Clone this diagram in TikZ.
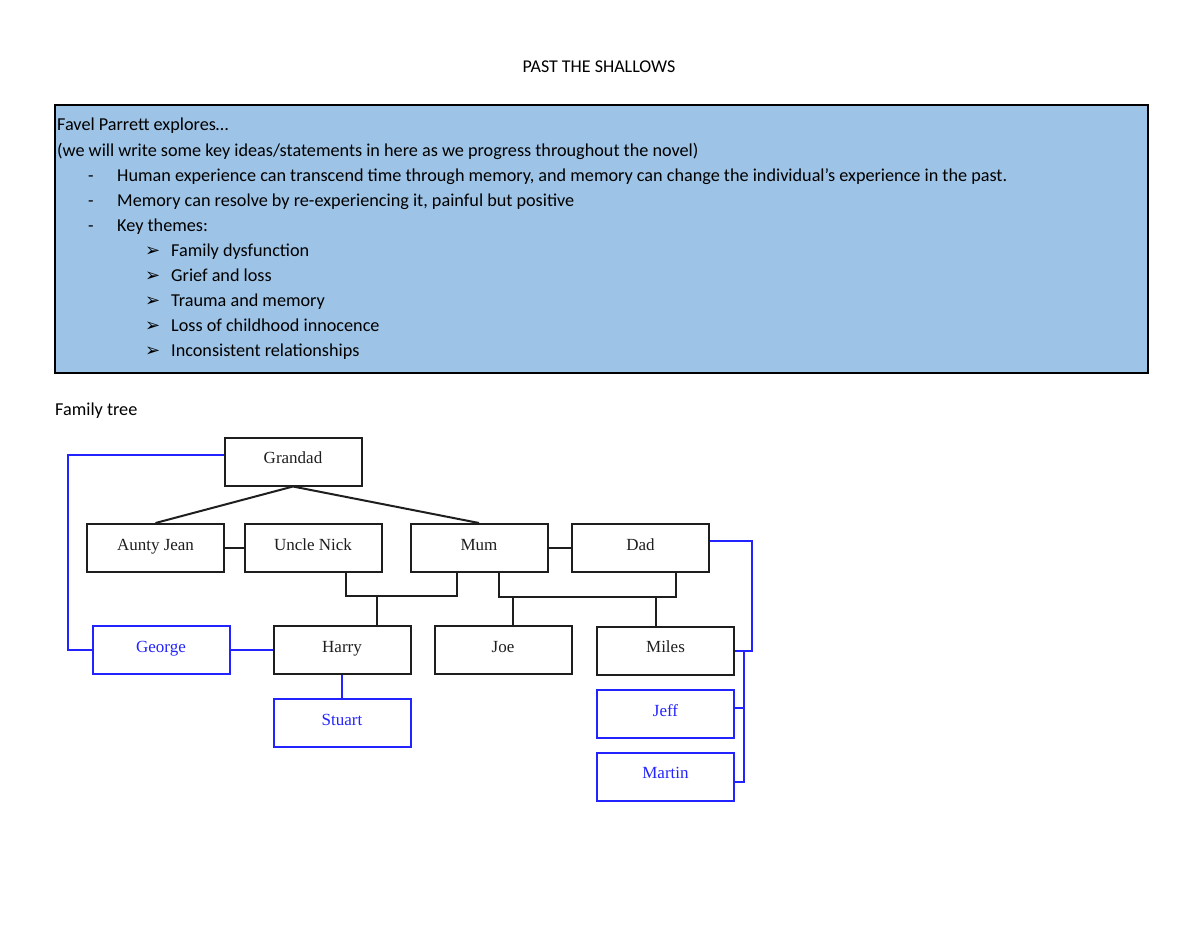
\documentclass[tikz,border=0pt]{standalone}
\usepackage{fontspec}
\setmainfont{Carlito}
\newfontfamily\treefont{Liberation Serif}
\newfontfamily\symfont{DejaVu Sans}
\definecolor{boxblue}{RGB}{157,195,230}
\definecolor{tblue}{RGB}{35,35,255}
\definecolor{kline}{RGB}{30,30,30}
\begin{document}
\begin{tikzpicture}[x=1pt,y=-1pt,
  person/.style={draw=kline, line width=2, minimum width=137, minimum height=48, inner sep=0,
    text height=12, text depth=8,
    font=\treefont\fontsize{17}{20}\selectfont, text=kline},
  bperson/.style={person, draw=tblue, text=tblue},
  bl/.style={draw=tblue, line width=2},
  kl/.style={draw=kline, line width=2},
  txt/.style={anchor=base west, inner sep=0, font=\fontsize{18.2}{21}\selectfont},
  dashmark/.style={anchor=base, inner sep=0, font=\fontsize{18}{21}\selectfont},
  arrowmark/.style={anchor=base west, inner sep=0, font=\symfont\fontsize{18}{20}\selectfont}]
\useasboundingbox (0,0) rectangle (1200,927);

\node[anchor=base, inner sep=0, font=\fontsize{18}{21}\selectfont] (title) at (599,72) {PAST THE SHALLOWS};

\node[draw=black, line width=1.6, fill=boxblue, anchor=north west, minimum width=1093, minimum height=268, inner sep=0] (ideas) at (54,104) {};

\node[txt] (l1) at (57,130) {Favel Parrett explores\ldots};
\node[txt] (l2) at (57,156) {(we will write some key ideas/statements in here as we progress throughout the novel)};
\node[dashmark] (d1) at (91,181) {-};
\node[txt] (l3) at (117,181) {Human experience can transcend time through memory, and memory can change the individual’s experience in the past.};
\node[dashmark] (d2) at (91,206) {-};
\node[txt] (l4) at (117,206) {Memory can resolve by re-experiencing it, painful but positive};
\node[dashmark] (d3) at (91,231) {-};
\node[txt] (l5) at (117,231) {Key themes:};
\node[arrowmark] (a1) at (145,256) {➢};
\node[txt] (t1) at (171,256) {Family dysfunction};
\node[arrowmark] (a2) at (145,281) {➢};
\node[txt] (t2) at (171,281) {Grief and loss};
\node[arrowmark] (a3) at (145,306) {➢};
\node[txt] (t3) at (171,306) {Trauma and memory};
\node[arrowmark] (a4) at (145,331) {➢};
\node[txt] (t4) at (171,331) {Loss of childhood innocence};
\node[arrowmark] (a5) at (145,356) {➢};
\node[txt] (t5) at (171,356) {Inconsistent relationships};

\node[txt] (ft) at (55,415) {Family tree};

% boxes
\node[person] (grandad) at (293,461.5) {Grandad};
\node[person] (aunty) at (155.5,548) {Aunty Jean};
\node[person] (nick) at (313,548) {Uncle Nick};
\node[person] (mum) at (479,548) {Mum};
\node[person] (dad) at (640.5,548) {Dad};
\node[bperson] (george) at (161,650) {George};
\node[person] (harry) at (342,650) {Harry};
\node[person] (joe) at (503,650) {Joe};
\node[person] (miles) at (665.5,650.5) {Miles};
\node[bperson] (stuart) at (342,723) {Stuart};
\node[bperson] (jeff) at (665.5,714) {Jeff};
\node[bperson] (martin) at (665.5,776.5) {Martin};

% black connectors
\draw[kl] (aunty.north) -- (grandad.south) -- (mum.north);
\draw[kl] (aunty.east) -- (nick.west);
\draw[kl] (mum.east) -- (dad.west);
\coordinate (nm) at (377,596);
\draw[kl] ([xshift=33]nick.south) |- (nm) -| ([xshift=-22]mum.south);
\draw[kl] (nm) -- (harry.north -| nm);
\coordinate (md) at (513,597);
\draw[kl] ([xshift=20]mum.south) |- (md) -| ([xshift=35]dad.south);
\draw[kl] (md) -- (joe.north -| md);
\draw[kl] (656,597) -- (miles.north -| 656,0);

% blue connectors
\coordinate (gl) at (68,455);
\draw[bl] ([yshift=6.5]grandad.west) -- (gl) |- ([xshift=2]george.west);
\draw[bl] (george.east) -- (harry.west);
\draw[bl] (harry.south) -- (stuart.north);
\coordinate (dr) at (752,541);
\draw[bl] ([yshift=7]dad.east) -- (dr) |- (miles.east);
\coordinate (mv) at (744,651);
\coordinate (mb) at (744,782);
\draw[bl] (mv) -- (mb) -- (martin.east |- mb);
\draw[bl] (jeff.east |- 0,708) -- (744,708);
\end{tikzpicture}
\end{document}
